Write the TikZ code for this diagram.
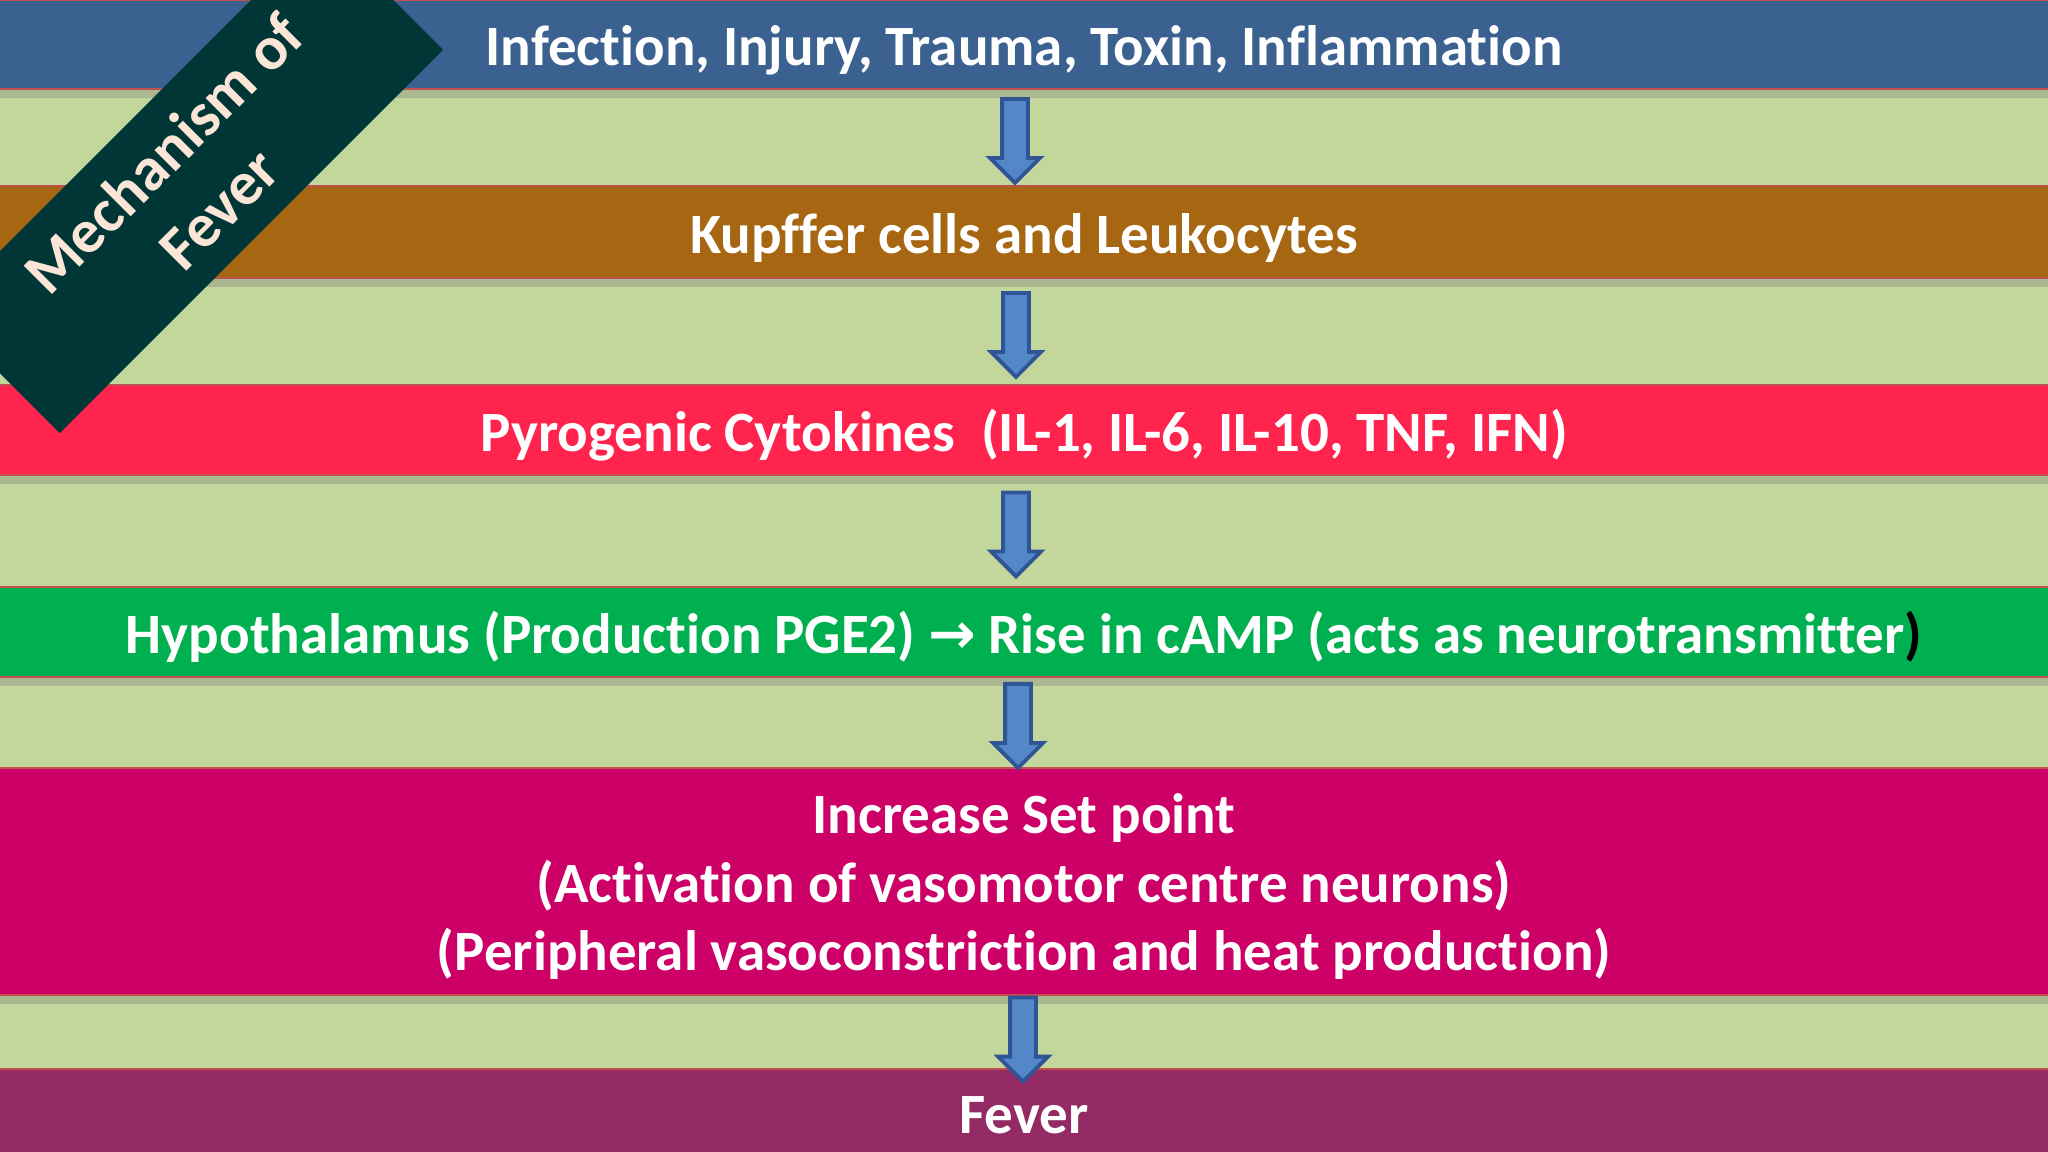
\documentclass[tikz,border=0pt]{standalone}
\usepackage{fontspec}
\setmainfont{Carlito}[Ligatures={NoCommon}]
\newfontfamily\arrowfont{DejaVu Sans}
\usetikzlibrary{shapes.arrows, shadows, calc}

\definecolor{bgreen}{RGB}{195,214,155}
\definecolor{cblue}{RGB}{59,97,145}
\definecolor{cbrown}{RGB}{166,102,18}
\definecolor{cred}{RGB}{255,36,78}
\definecolor{cgreen}{RGB}{0,176,80}
\definecolor{cmagenta}{RGB}{204,0,102}
\definecolor{cpurple}{RGB}{148,42,100}
\definecolor{barline}{RGB}{192,80,77}
\definecolor{banner}{RGB}{0,54,54}
\definecolor{cream}{RGB}{251,229,214}
\definecolor{arrowfill}{RGB}{84,135,200}
\definecolor{arrowline}{RGB}{47,85,151}

\begin{document}
\begin{tikzpicture}[x=0.01cm, y=-0.01cm]
    \tikzstyle{bar} = [rectangle, minimum width=20.48cm, inner sep=0pt, draw=barline, line width=0.5pt, text=white, align=center, font=\fontsize{16.2}{19.5}\selectfont\bfseries, text height=12pt, text depth=0pt, drop shadow={shadow xshift=0pt, shadow yshift=-2.5pt, opacity=0.35}]
    \tikzstyle{fatarrow} = [single arrow, rotate=-90, minimum height=0.84cm, minimum width=0pt, inner sep=0.11cm, single arrow head extend=0.12cm, fill=arrowfill, draw=arrowline, line width=1.1pt]
    \useasboundingbox[fill=bgreen] (0,0) rectangle (2048,1152);
    % bars
    \node[bar, fill=cblue, minimum height=0.89cm] (infect) at (1024,44.5) {Infection, Injury, Trauma, Toxin, Inflammation};
    \node[bar, fill=cbrown, minimum height=0.92cm] (kupffer) at (1024,232) {Kupffer cells and Leukocytes};
    \node[bar, fill=cred, minimum height=0.90cm] (cyto) at (1024,430) {Pyrogenic Cytokines~~(IL-1, IL-6, IL-10, TNF, IFN)};
    \node[bar, fill=cgreen, minimum height=0.90cm] (hypo) at (1024,632) {Hypothalamus (Production PGE2) {\arrowfont →} Rise in cAMP (acts as neurotransmitter\textcolor{black}{)}};
    \node[bar, fill=cmagenta, minimum height=2.27cm, text height=50.8pt, text depth=0pt] (setpt) at (1024,881.5) {Increase Set point\\(Activation of vasomotor centre neurons)\\(Peripheral vasoconstriction and heat production)};
    \node[bar, fill=cpurple, minimum height=0.86cm] (fever) at (1024,1112) {Fever};
    % arrows
    \node[fatarrow] (a1) at ($(infect.south)!.5!(kupffer.north)+(-9,-3)$) {};
    \node[fatarrow] (a2) at ($(kupffer.south)!.5!(cyto.north)+(-8,-3)$) {};
    \node[fatarrow] (a3) at ($(cyto.south)!.5!(hypo.north)+(-8,-3)$) {};
    \node[fatarrow] (a4) at ($(hypo.south)!.5!(setpt.north)+(-6,-3)$) {};
    \node[fatarrow] (a5) at ($(setpt.south)!.5!(fever.north)+(-1,1)$) {};
    % title banner
    \node[rectangle, rotate=45, fill=banner, text=cream, minimum width=5.42cm, minimum height=1.71cm, align=center, font=\fontsize{17.6}{22.2}\selectfont\bfseries] (title) at (191,181) {Mechanism of\\Fever};
\end{tikzpicture}
\end{document}
